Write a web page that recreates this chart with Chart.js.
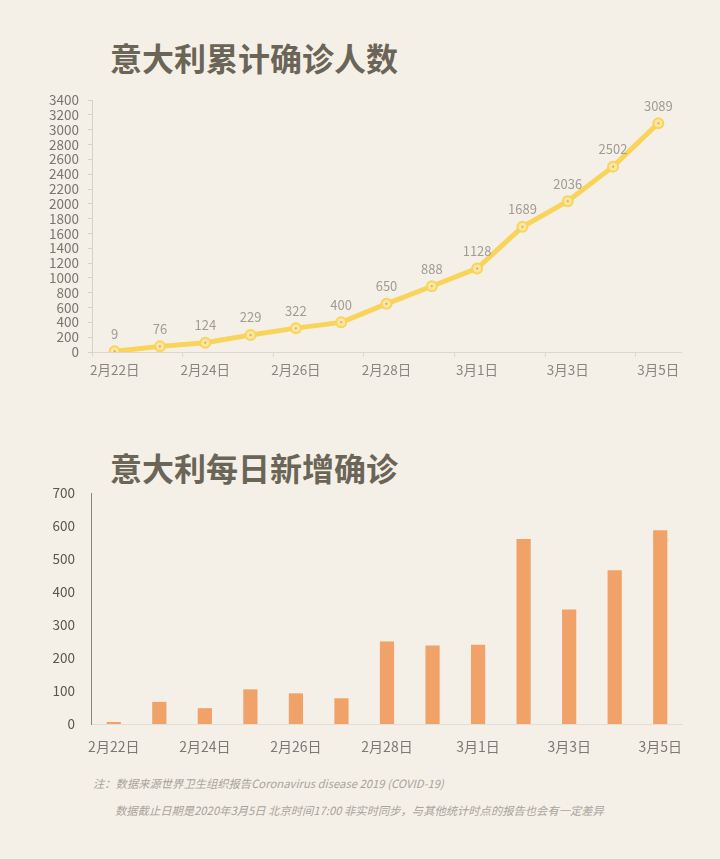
<!DOCTYPE html>
<html>
<head>
<meta charset="utf-8">
<script src="https://cdn.jsdelivr.net/npm/chart.js@4"></script>
<style>
  body { margin: 0; width: 720px; height: 859px; background: #f5f0e7; position: relative; overflow: hidden;
         font-family: "Noto Sans CJK SC", "Noto Sans", sans-serif; }
  .title { position: absolute; left: 110px; font-size: 32px; font-weight: bold; color: #6b6557; letter-spacing: 0px; }
  .box { position: absolute; left: 40px; width: 648px; }
  .note { position: absolute; font-size: 11.3px; font-style: italic; color: #a8a39c; }
</style>
</head>
<body>
<div class="title" style="top:34px">意大利累计确诊人数</div>
<div class="box" style="top:83px;height:299px"><canvas id="totalChart"></canvas></div>
<div class="title" style="top:444px">意大利每日新增确诊</div>
<div class="box" style="top:477px;height:277px"><canvas id="dailyChart"></canvas></div>
<div class="note" style="left:93px;top:775px">注：数据来源世界卫生组织报告Coronavirus disease 2019 (COVID-19)</div>
<div class="note" style="left:115px;top:802px">数据截止日期是2020年3月5日 北京时间17:00 非实时同步，与其他统计时点的报告也会有一定差异</div>
<script>
const dates = ['2月22日', '2月23日', '2月24日', '2月25日', '2月26日', '2月27日', '2月28日',
               '2月29日', '3月1日', '3月2日', '3月3日', '3月4日', '3月5日'];
const totalCases = [9, 76, 124, 229, 322, 400, 650, 888, 1128, 1689, 2036, 2502, 3089];
const newCases = [6, 67, 48, 105, 93, 78, 250, 238, 240, 561, 347, 466, 587];

const font = "'Noto Sans CJK SC', 'Noto Sans', sans-serif";

// etiquetes de valor sobre cada punt
const pointLabels = {
    id: 'pointLabels',
    afterDatasetsDraw(chart) {
        const ctx = chart.ctx;
        const meta = chart.getDatasetMeta(0);
        ctx.save();
        ctx.font = '13px ' + font;
        ctx.fillStyle = '#a09b95';
        ctx.textAlign = 'center';
        ctx.textBaseline = 'bottom';
        meta.data.forEach((pt, i) => {
            ctx.fillText(chart.data.datasets[0].data[i], pt.x, pt.y - 11);
        });
        // punt central petit
        ctx.fillStyle = '#d9a25a';
        meta.data.forEach(pt => {
            ctx.beginPath();
            ctx.arc(pt.x, pt.y, 1, 0, Math.PI * 2);
            ctx.fill();
        });
        ctx.restore();
    }
};

const everyOther = function (val, i) { return i % 2 === 0 ? this.getLabelForValue(val) : ''; };

new Chart(document.getElementById('totalChart'), {
    type: 'line',
    data: {
        labels: dates,
        datasets: [{
            data: totalCases,
            borderColor: '#f8d45a',
            borderWidth: 5,
            pointRadius: 5,
            pointBorderWidth: 2,
            pointBorderColor: '#f8d45a',
            pointBackgroundColor: '#fbe6a0',
            tension: 0
        }]
    },
    options: {
        responsive: true,
        maintainAspectRatio: false,
        animation: false,
        layout: { padding: { top: 10, right: 0, left: 0, bottom: 0 } },
        plugins: { legend: { display: false }, tooltip: { enabled: false } },
        scales: {
            x: {
                offset: true,
                afterFit: s => { s.height = 30; },
                grid: {
                    offset: true, drawOnChartArea: false, tickLength: 5,
                    color: c => (c.index % 2 === 0 ? '#dcd7cf' : 'rgba(0,0,0,0)')
                },
                border: { color: '#dcd7cf' },
                ticks: { autoSkip: false, maxRotation: 0, padding: 5, color: '#8a8580',
                         font: { family: font, size: 13.5 }, callback: everyOther }
            },
            y: {
                min: 0, max: 3400,
                afterFit: s => { s.width = 52; },
                grid: { drawOnChartArea: false, tickLength: 4, color: '#d6d1c9' },
                border: { color: '#d6d1c9' },
                ticks: { stepSize: 200, autoSkip: false, padding: 9, color: '#7a7570',
                         font: { family: font, size: 13.5 }, callback: v => String(v) }
            }
        }
    },
    plugins: [pointLabels]
});

new Chart(document.getElementById('dailyChart'), {
    type: 'bar',
    data: {
        labels: dates,
        datasets: [{
            data: newCases,
            backgroundColor: '#f0a268',
            barPercentage: 0.6,
            categoryPercentage: 0.52
        }]
    },
    options: {
        responsive: true,
        maintainAspectRatio: false,
        animation: false,
        layout: { padding: { top: 6, right: 0, left: 0, bottom: 0 } },
        plugins: { legend: { display: false }, tooltip: { enabled: false } },
        scales: {
            x: {
                afterFit: s => { s.height = 30; },
                grid: { display: false },
                border: { color: '#e2ddd5' },
                ticks: { autoSkip: false, maxRotation: 0, padding: 6, color: '#7d7873',
                         font: { family: font, size: 14 }, callback: everyOther }
            },
            y: {
                min: 0, max: 700,
                afterFit: s => { s.width = 51; },
                grid: { display: false },
                border: { color: '#8a857f' },
                ticks: { stepSize: 100, padding: 8, color: '#5a5550', font: { family: font, size: 13.5 } }
            }
        }
    }
});
</script>
</body>
</html>
